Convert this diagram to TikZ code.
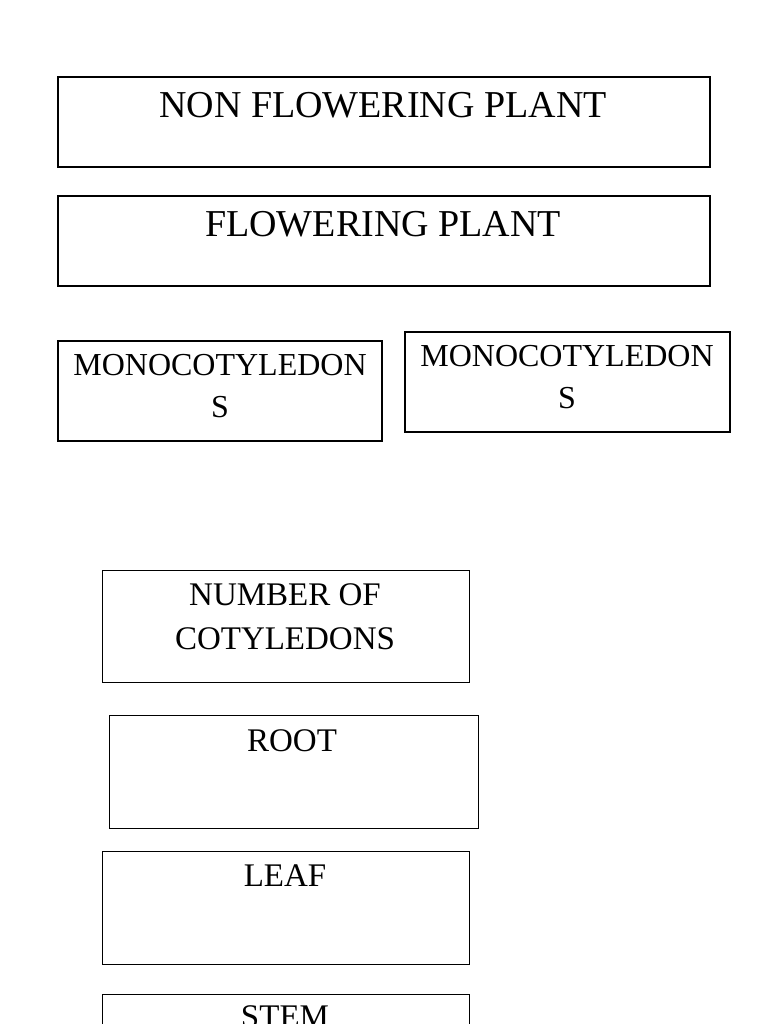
\documentclass[tikz,border=0pt]{standalone}
\usepackage{fontspec}
\setmainfont{Liberation Serif}
\begin{document}
\begin{tikzpicture}[x=1pt,y=-1pt,
  thickbox/.style={draw,line width=2.2pt},
  thinbox/.style={draw,line width=1pt},
  title/.style={font=\fontsize{38}{42}\selectfont,align=center,inner sep=0pt},
  big/.style={font=\fontsize{32}{42}\selectfont,align=center,inner sep=0pt},
  mid/.style={font=\fontsize{33}{44}\selectfont,align=center,inner sep=0pt}]
\useasboundingbox (0,0) rectangle (768,1024);
\clip (0,0) rectangle (768,1024);
\draw[thickbox] (58,77) rectangle (710,167);
\node[title] (t1) at (383,105) {NON FLOWERING PLANT};
\draw[thickbox] (58,196) rectangle (710,286);
\node[title] (t2) at (383,224) {FLOWERING PLANT};
\draw[thickbox] (58,341) rectangle (382,441);
\node[big,anchor=north] (t3) at (220,354) {MONOCOTYLEDON\\S};
\draw[thickbox] (405,332) rectangle (730,432);
\node[big,anchor=north] (t4) at (567,345) {MONOCOTYLEDON\\S};
\draw[thinbox] (102,570) rectangle (469,682);
\node[mid,anchor=north] (t5) at (285,583) {NUMBER OF\\COTYLEDONS};
\draw[thinbox] (109,715) rectangle (478,828);
\node[mid,anchor=north] (t6) at (292,729) {ROOT};
\draw[thinbox] (102,851) rectangle (469,964);
\node[mid,anchor=north] (t7) at (285,865) {LEAF};
\draw[thinbox] (102,994) rectangle (469,1100);
\node[mid,anchor=north] (t8) at (285,1005) {STEM};
\end{tikzpicture}
\end{document}
